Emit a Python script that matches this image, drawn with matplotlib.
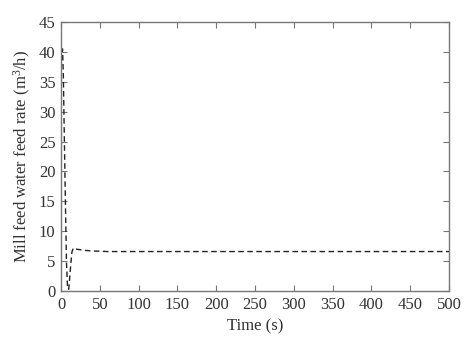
import matplotlib.pyplot as plt

# time (s) and mill feed water feed rate (m3/h)
time_s = [0, 1, 2, 3, 5, 7, 8.5, 10, 12, 14, 16, 18, 20, 25, 30, 40, 50, 60, 80, 100, 150, 200, 300, 400, 500]
feed_rate = [37.0, 40.0, 40.5, 36.0, 20.0, 5.0, 0.3, 0.3, 3.5, 6.5, 7.2, 7.1, 7.0, 6.9, 6.8, 6.7, 6.65, 6.6, 6.6, 6.6, 6.6, 6.6, 6.6, 6.6, 6.6]

x_ticks = list(range(0, 501, 50))
y_ticks = list(range(0, 46, 5))

plt.rcParams['font.family'] = ['Liberation Serif', 'DejaVu Serif']
plt.rcParams['mathtext.fontset'] = 'custom'
plt.rcParams['mathtext.rm'] = 'Liberation Serif'
text_color = '#333333'
spine_color = '#777777'

fig = plt.figure(figsize=(4.74, 3.48), dpi=100)
ax = fig.add_axes([0.1287, 0.1638, 0.8186, 0.7730])

ax.plot(time_s, feed_rate, color='#222222', linestyle='--', linewidth=1.0, dashes=(4, 2.5))

ax.set_xlim(0, 500)
ax.set_ylim(0, 45)
ax.set_xticks(x_ticks)
ax.set_yticks(y_ticks)
ax.tick_params(direction='in', top=True, right=True, length=4, width=0.8,
               colors=spine_color, labelcolor=text_color, labelsize=12, pad=4)
for spine in ax.spines.values():
    spine.set_color(spine_color)
    spine.set_linewidth(1.0)

ax.set_xlabel('Time (s)', fontsize=12, color=text_color, labelpad=4)
ax.set_ylabel('Mill feed water feed rate (m$\\mathrm{^3}$/h)', fontsize=12, color=text_color, labelpad=4)

fig.savefig('out.png', dpi=100)
